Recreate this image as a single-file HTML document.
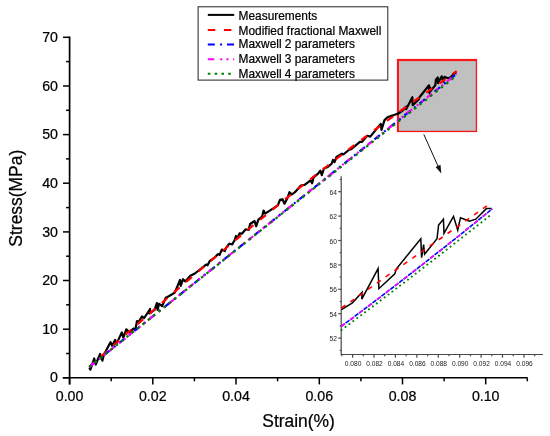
<!DOCTYPE html><html><head><meta charset="utf-8"><title>Stress strain</title>
<style>html,body{margin:0;padding:0;background:#fff}svg{display:block}text{font-family:"Liberation Sans",Arial,sans-serif;fill:#000;stroke:#000;stroke-width:0.22px}</style></head><body>
<svg width="550" height="436" viewBox="0 0 550 436">
<rect width="550" height="436" fill="#fff"/>
<rect x="396.9" y="58.9" width="80.2" height="73.2" fill="#f81818"/>
<rect x="399" y="61.1" width="76.8" height="69.7" fill="#c0c0c0"/>
<g stroke="#000" stroke-width="1.7" fill="none">
<path d="M69.6 36.5V384.4"/>
<path d="M62.7 377.8H527.6" stroke-width="1.6"/>
<path d="M63 377.8H69.6" stroke-width="1.5"/>
<path d="M63 329.2H69.6" stroke-width="1.5"/>
<path d="M63 280.5H69.6" stroke-width="1.5"/>
<path d="M63 231.9H69.6" stroke-width="1.5"/>
<path d="M63 183.2H69.6" stroke-width="1.5"/>
<path d="M63 134.6H69.6" stroke-width="1.5"/>
<path d="M63 86.0H69.6" stroke-width="1.5"/>
<path d="M63 37.3H69.6" stroke-width="1.5"/>
<path d="M66.1 353.5H69.6" stroke-width="1.5"/>
<path d="M66.1 304.8H69.6" stroke-width="1.5"/>
<path d="M66.1 256.2H69.6" stroke-width="1.5"/>
<path d="M66.1 207.6H69.6" stroke-width="1.5"/>
<path d="M66.1 158.9H69.6" stroke-width="1.5"/>
<path d="M66.1 110.3H69.6" stroke-width="1.5"/>
<path d="M66.1 61.6H69.6" stroke-width="1.5"/>
<path d="M69.6 377.8V384.4" stroke-width="1.5"/>
<path d="M152.8 377.8V384.4" stroke-width="1.5"/>
<path d="M236.0 377.8V384.4" stroke-width="1.5"/>
<path d="M319.3 377.8V384.4" stroke-width="1.5"/>
<path d="M402.5 377.8V384.4" stroke-width="1.5"/>
<path d="M485.7 377.8V384.4" stroke-width="1.5"/>
<path d="M111.2 377.8V381.3" stroke-width="1.5"/>
<path d="M194.4 377.8V381.3" stroke-width="1.5"/>
<path d="M277.6 377.8V381.3" stroke-width="1.5"/>
<path d="M360.9 377.8V381.3" stroke-width="1.5"/>
<path d="M444.1 377.8V381.3" stroke-width="1.5"/>
<path d="M527.3 377.8V381.3" stroke-width="1.5"/>
</g>
<g font-size="14.2">
<text x="58" y="382.4" text-anchor="end">0</text>
<text x="58" y="333.8" text-anchor="end">10</text>
<text x="58" y="285.1" text-anchor="end">20</text>
<text x="58" y="236.5" text-anchor="end">30</text>
<text x="58" y="187.8" text-anchor="end">40</text>
<text x="58" y="139.2" text-anchor="end">50</text>
<text x="58" y="90.6" text-anchor="end">60</text>
<text x="58" y="41.9" text-anchor="end">70</text>
<text x="69.6" y="400.5" text-anchor="middle">0.00</text>
<text x="152.8" y="400.5" text-anchor="middle">0.02</text>
<text x="236.0" y="400.5" text-anchor="middle">0.04</text>
<text x="319.3" y="400.5" text-anchor="middle">0.06</text>
<text x="402.5" y="400.5" text-anchor="middle">0.08</text>
<text x="485.7" y="400.5" text-anchor="middle">0.10</text>
</g>
<text x="298.6" y="427.3" font-size="17.45" text-anchor="middle">Strain(%)</text>
<text transform="translate(22.3,198.2) rotate(-90)" font-size="17.45" text-anchor="middle">Stress(MPa)</text>
<g fill="none" stroke-width="2.2" stroke-linejoin="round">
<polyline points="89.3,367.5 90.4,369.7 94.2,358.5 95.7,364.5 100.1,354.0 102.4,360.7 103.9,354.8 110.6,342.1 112.1,345.8 115.1,339.9 116.6,343.6 121.8,332.4 123.3,337.6 126.3,329.4 129.3,332.4 133.5,328.6 135.5,329.0 137.0,321.0 138.2,322.5 141.9,316.5 144.2,318.0 150.1,309.0 149.4,313.5 154.6,309.8 156.9,303.1 157.6,309.8 159.1,303.8 162.1,306.0 165.8,297.8 168.8,296.3 174.8,292.6 180.0,279.9 180.7,285.9 183.0,279.2 185.2,281.4 190.4,275.7 194.9,273.5 202.4,267.5 206.1,264.6 207.6,265.3 209.9,260.8 214.3,257.8 218.1,254.1 219.6,254.9 221.8,249.6 224.8,251.1 226.3,247.4 229.3,243.7 232.2,244.4 234.5,240.5 236.0,236.0 237.5,238.2 239.5,233.3 241.9,233.7 245.7,229.3 248.7,230.0 250.1,224.0 254.6,221.0 256.1,226.3 258.4,219.6 262.1,216.6 263.6,210.6 265.1,213.6 273.3,208.4 277.8,205.4 280.0,199.9 282.5,199.2 284.5,203.7 287.5,198.0 289.5,192.2 291.9,194.5 294.9,192.2 300.9,185.5 304.6,184.8 310.6,180.3 312.1,183.3 313.6,177.3 318.1,173.6 320.3,170.6 321.8,175.1 324.0,168.4 327.8,166.9 331.5,163.9 333.0,160.0 334.5,162.0 336.5,157.0 341.9,153.7 343.4,154.5 348.7,150.0 350.9,149.3 359.9,141.8 362.1,141.8 367.3,135.8 370.3,136.6 380.7,123.9 381.5,129.9 384.5,120.1 387.5,117.2 390.0,116.4 394.0,115.0 398.2,113.5 402.4,110.8 406.2,106.6 406.1,109.3 412.4,97.2 412.7,105.2 418.9,99.3 419.5,97.2 429.0,85.3 429.3,92.8 430.1,87.6 430.5,91.4 435.3,85.3 435.9,79.8 437.8,77.5 438.0,83.1 441.7,76.3 443.3,81.8 444.4,76.9 447.9,78.2 450.4,77.5 454.5,73.2 456.5,73.2" stroke="#000" stroke-width="2.2"/>
<polyline points="89.3,366.8 94.0,362.7 98.6,358.5 103.3,354.4 107.9,350.3 112.6,346.2 117.2,342.0 121.9,337.9 126.5,333.8 131.2,329.7 135.8,325.6 140.5,321.6 145.2,317.5 149.8,313.4 154.5,309.4 159.1,305.3 163.8,301.3 168.4,297.2 173.1,293.2 177.7,289.2 182.4,285.2 187.0,281.2 191.7,277.2 196.4,273.2 201.0,269.2 205.7,265.2 210.3,261.3 215.0,257.3 219.6,253.4 224.3,249.5 228.9,245.6 233.6,241.7 238.2,237.8 242.9,233.9 247.6,230.1 252.2,226.2 256.9,222.4 261.5,218.6 266.2,214.8 270.8,211.0 275.5,207.2 280.1,203.4 284.8,199.6 289.4,195.9 294.1,192.2 298.7,188.4 303.4,184.7 308.1,181.1 312.7,177.4 317.4,173.7 322.0,170.1 326.7,166.5 331.3,162.8 336.0,159.2 340.6,155.7 345.3,152.1 349.9,148.5 354.6,145.0 359.3,141.5 363.9,138.0 368.6,134.5 373.2,131.0 377.9,127.5 382.5,124.1 387.2,120.7 391.8,117.3 396.5,113.9 401.1,110.5 405.8,107.1 410.5,103.8 415.1,100.4 419.8,97.1 424.4,93.8 429.1,90.6 433.7,87.3 438.4,84.0 443.0,80.8 447.7,77.6 452.3,74.4 456.6,71.0" stroke="#ff0000" stroke-dasharray="7.5 8.6"/>
<polyline points="89.3,366.9 94.0,363.2 98.6,359.5 103.3,355.8 107.9,352.0 112.6,348.3 117.2,344.6 121.9,340.9 126.5,337.2 131.2,333.5 135.8,329.8 140.5,326.1 145.2,322.3 149.8,318.6 154.5,314.9 159.1,311.2 163.8,307.5 168.4,303.8 173.1,300.1 177.7,296.4 182.4,292.6 187.0,288.9 191.7,285.2 196.4,281.5 201.0,277.8 205.7,274.1 210.3,270.4 215.0,266.7 219.6,262.9 224.3,259.2 228.9,255.5 233.6,251.8 238.2,248.1 242.9,244.4 247.6,240.7 252.2,237.0 256.9,233.2 261.5,229.5 266.2,225.8 270.8,222.1 275.5,218.4 280.1,214.7 284.8,211.0 289.4,207.3 294.1,203.5 298.7,199.8 303.4,196.1 308.1,192.4 312.7,188.7 317.4,185.0 322.0,181.3 326.7,177.6 331.3,173.8 336.0,170.1 340.6,166.4 345.3,162.7 349.9,159.0 354.6,155.3 359.3,151.6 363.9,147.9 368.6,144.1 373.2,140.4 377.9,136.7 382.5,133.0 387.2,129.3 391.8,125.6 396.5,121.9 401.1,118.2 405.8,114.4 410.5,110.7 415.1,107.0 419.8,103.3 424.4,99.6 429.1,95.9 433.7,92.2 438.4,88.5 443.0,84.7 447.7,81.0 452.3,77.3 457.0,73.6" stroke="#0000ff" stroke-dasharray="7 5.3 2 4.9"/>
<polyline points="89.3,366.9 94.0,363.2 98.6,359.5 103.3,355.8 107.9,352.0 112.6,348.3 117.2,344.6 121.9,340.9 126.5,337.2 131.2,333.5 135.8,329.8 140.5,326.1 145.2,322.3 149.8,318.6 154.5,314.9 159.1,311.2 163.8,307.5 168.4,303.8 173.1,300.1 177.7,296.4 182.4,292.6 187.0,288.9 191.7,285.2 196.4,281.5 201.0,277.8 205.7,274.1 210.3,270.4 215.0,266.7 219.6,262.9 224.3,259.2 228.9,255.5 233.6,251.8 238.2,248.1 242.9,244.4 247.6,240.7 252.2,237.0 256.9,233.2 261.5,229.5 266.2,225.8 270.8,222.1 275.5,218.4 280.1,214.7 284.8,211.0 289.4,207.3 294.1,203.5 298.7,199.8 303.4,196.1 308.1,192.4 312.7,188.7 317.4,185.0 322.0,181.3 326.7,177.6 331.3,173.8 336.0,170.1 340.6,166.4 345.3,162.7 349.9,159.0 354.6,155.3 359.3,151.6 363.9,147.9 368.6,144.1 373.2,140.4 377.9,136.7 382.5,133.0 387.2,129.3 391.8,125.6 396.5,121.9 401.1,118.2 405.8,114.4 410.5,110.7 415.1,107.0 419.8,103.3 424.4,99.6 429.1,95.9 433.7,92.2 438.4,88.5 443.0,84.7 447.7,81.0 452.3,77.3 457.0,73.6" stroke="#ff00ff" stroke-dasharray="6.5 6 2 4.2 2 4.7"/>
<polyline points="89.3,366.9 94.0,363.2 98.6,359.5 103.3,355.8 107.9,352.1 112.6,348.3 117.2,344.6 121.9,340.9 126.5,337.2 131.2,333.5 135.8,329.8 140.5,326.1 145.2,322.4 149.8,318.7 154.5,315.0 159.1,311.3 163.8,307.6 168.4,303.9 173.1,300.2 177.7,296.5 182.4,292.8 187.0,289.1 191.7,285.4 196.4,281.7 201.0,278.0 205.7,274.3 210.3,270.6 215.0,266.9 219.6,263.2 224.3,259.5 228.9,255.8 233.6,252.1 238.2,248.4 242.9,244.7 247.6,241.0 252.2,237.3 256.9,233.6 261.5,229.9 266.2,226.2 270.8,222.5 275.5,218.8 280.1,215.1 284.8,211.4 289.4,207.8 294.1,204.1 298.7,200.4 303.4,196.7 308.1,193.0 312.7,189.3 317.4,185.6 322.0,181.9 326.7,178.3 331.3,174.6 336.0,170.9 340.6,167.2 345.3,163.5 349.9,159.8 354.6,156.2 359.3,152.5 363.9,148.8 368.6,145.1 373.2,141.4 377.9,137.8 382.5,134.1 387.2,130.4 391.8,126.7 396.5,123.1 401.1,119.4 405.8,115.7 410.5,112.0 415.1,108.3 419.8,104.7 424.4,101.0 429.1,97.3 433.7,93.7 438.4,90.0 443.0,86.3 447.7,82.6 452.3,79.0 457.0,75.3" stroke="#008000" stroke-dasharray="2.6 4.2"/>
</g>
<rect x="198.1" y="6.8" width="189.7" height="73.3" fill="#fff" stroke="#222" stroke-width="1"/>
<g font-size="11.9">
<path d="M207.8 14.9H234.2" stroke="#000" stroke-width="2" fill="none"/>
<text x="238.6" y="20.0">Measurements</text>
<path d="M207.8 29.9H234.2" stroke="#ff0000" stroke-width="2" stroke-dasharray="7.5 8.6" fill="none"/>
<text x="238.6" y="34.5">Modified fractional Maxwell</text>
<path d="M207.8 44.4H234.2" stroke="#0000ff" stroke-width="2" stroke-dasharray="7 5.3 2 4.9" fill="none"/>
<text x="238.6" y="48.4">Maxwell 2 parameters</text>
<path d="M207.8 59.2H234.2" stroke="#ff00ff" stroke-width="2" stroke-dasharray="6.5 6 2 4.2 2 4.7" fill="none"/>
<text x="238.6" y="63.2">Maxwell 3 parameters</text>
<path d="M207.8 73.7H234.2" stroke="#008000" stroke-width="2" stroke-dasharray="2.6 4.2" fill="none"/>
<text x="238.6" y="78.0">Maxwell 4 parameters</text>
</g>
<path d="M423.8 134.4L438.6 167.4" stroke="#111" stroke-width="1" fill="none"/>
<path d="M441.3 173.4L435.6 166.9L440.5 164.8Z" fill="#111"/>
<g stroke="#484848" stroke-width="1.2" fill="none">
<path d="M341.2 176.2V354.5H543"/>
<path d="M338.2 338.1H341.2"/>
<path d="M338.2 313.7H341.2"/>
<path d="M338.2 289.3H341.2"/>
<path d="M338.2 264.9H341.2"/>
<path d="M338.2 240.5H341.2"/>
<path d="M338.2 216.1H341.2"/>
<path d="M338.2 191.7H341.2"/>
<path d="M339.7 350.3H341.2"/>
<path d="M339.7 325.9H341.2"/>
<path d="M339.7 301.5H341.2"/>
<path d="M339.7 277.1H341.2"/>
<path d="M339.7 252.7H341.2"/>
<path d="M339.7 228.3H341.2"/>
<path d="M339.7 203.9H341.2"/>
<path d="M339.7 179.5H341.2"/>
<path d="M352.6 354.5V357.7"/>
<path d="M374.0 354.5V357.7"/>
<path d="M395.4 354.5V357.7"/>
<path d="M416.9 354.5V357.7"/>
<path d="M438.3 354.5V357.7"/>
<path d="M459.7 354.5V357.7"/>
<path d="M481.1 354.5V357.7"/>
<path d="M502.5 354.5V357.7"/>
<path d="M524.0 354.5V357.7"/>
<path d="M341.9 354.5V356.2"/>
<path d="M363.3 354.5V356.2"/>
<path d="M384.7 354.5V356.2"/>
<path d="M406.2 354.5V356.2"/>
<path d="M427.6 354.5V356.2"/>
<path d="M449.0 354.5V356.2"/>
<path d="M470.4 354.5V356.2"/>
<path d="M491.8 354.5V356.2"/>
<path d="M513.2 354.5V356.2"/>
<path d="M534.7 354.5V356.2"/>
</g>
<g font-size="6.6" style="stroke:none">
<text x="336.9" y="341.1" text-anchor="end" style="fill:#1a1a1a;stroke:none">52</text>
<text x="336.9" y="316.7" text-anchor="end" style="fill:#1a1a1a;stroke:none">54</text>
<text x="336.9" y="292.3" text-anchor="end" style="fill:#1a1a1a;stroke:none">56</text>
<text x="336.9" y="267.9" text-anchor="end" style="fill:#1a1a1a;stroke:none">58</text>
<text x="336.9" y="243.5" text-anchor="end" style="fill:#1a1a1a;stroke:none">60</text>
<text x="336.9" y="219.1" text-anchor="end" style="fill:#1a1a1a;stroke:none">62</text>
<text x="336.9" y="194.7" text-anchor="end" style="fill:#1a1a1a;stroke:none">64</text>
<text x="353.1" y="366.4" text-anchor="middle" style="fill:#1a1a1a;stroke:none">0.080</text>
<text x="374.5" y="366.4" text-anchor="middle" style="fill:#1a1a1a;stroke:none">0.082</text>
<text x="395.9" y="366.4" text-anchor="middle" style="fill:#1a1a1a;stroke:none">0.084</text>
<text x="417.4" y="366.4" text-anchor="middle" style="fill:#1a1a1a;stroke:none">0.086</text>
<text x="438.8" y="366.4" text-anchor="middle" style="fill:#1a1a1a;stroke:none">0.088</text>
<text x="460.2" y="366.4" text-anchor="middle" style="fill:#1a1a1a;stroke:none">0.090</text>
<text x="481.6" y="366.4" text-anchor="middle" style="fill:#1a1a1a;stroke:none">0.092</text>
<text x="503.0" y="366.4" text-anchor="middle" style="fill:#1a1a1a;stroke:none">0.094</text>
<text x="524.5" y="366.4" text-anchor="middle" style="fill:#1a1a1a;stroke:none">0.096</text>
</g>
<g fill="none" stroke-width="1.6" stroke-linejoin="miter">
<polyline points="341.5,309.6 352.4,302.8 362.1,292.2 361.8,299.1 378.1,268.6 378.9,288.7 394.8,273.9 396.4,268.8 420.8,238.8 421.6,257.7 423.6,244.5 424.6,254.2 437.0,238.8 438.6,225.0 443.4,219.2 444.0,233.4 453.5,216.4 457.7,230.0 460.5,217.7 469.5,221.1 475.8,219.2 486.4,208.6 491.7,208.4" stroke="#000" stroke-width="1.5"/>
<polyline points="341.5,308.0 487.9,205.2" stroke="#ff0000" stroke-dasharray="4.8 6"/>
<polyline points="341.2,326.5 346.2,322.7 351.3,319.0 356.3,315.2 361.3,311.4 366.4,307.6 371.4,303.8 376.4,300.0 381.5,296.2 386.5,292.3 391.5,288.5 396.6,284.6 401.6,280.7 406.6,276.8 411.7,272.9 416.7,269.0 421.7,265.1 426.8,261.1 431.8,257.2 436.8,253.2 441.9,249.3 446.9,245.3 451.9,241.3 457.0,237.3 462.0,233.3 467.0,229.2 472.1,225.2 477.1,221.1 482.1,217.1 487.2,213.0 492.2,208.9" stroke="#0000ff" stroke-dasharray="4.6 1 4.6 1"/>
<polyline points="341.2,326.5 346.2,322.7 351.3,319.0 356.3,315.2 361.3,311.4 366.4,307.6 371.4,303.8 376.4,300.0 381.5,296.2 386.5,292.3 391.5,288.5 396.6,284.6 401.6,280.7 406.6,276.8 411.7,272.9 416.7,269.0 421.7,265.1 426.8,261.1 431.8,257.2 436.8,253.2 441.9,249.3 446.9,245.3 451.9,241.3 457.0,237.3 462.0,233.3 467.0,229.2 472.1,225.2 477.1,221.1 482.1,217.1 487.2,213.0 492.2,208.9" stroke="#ff00ff" stroke-dasharray="4.6 6.6"/>
<polyline points="341.5,329.9 346.5,326.2 351.5,322.4 356.5,318.6 361.6,314.9 366.6,311.1 371.6,307.3 376.6,303.5 381.6,299.7 386.6,295.9 391.6,292.1 396.6,288.2 401.7,284.4 406.7,280.6 411.7,276.7 416.7,272.8 421.7,269.0 426.7,265.1 431.7,261.2 436.8,257.3 441.8,253.4 446.8,249.5 451.8,245.6 456.8,241.7 461.8,237.8 466.8,233.8 471.8,229.9 476.9,225.9 481.9,222.0 486.9,218.0 491.9,214.0" stroke="#008000" stroke-width="2" stroke-linecap="round" stroke-dasharray="0.1 4.8"/>
</g>
</svg></body></html>
